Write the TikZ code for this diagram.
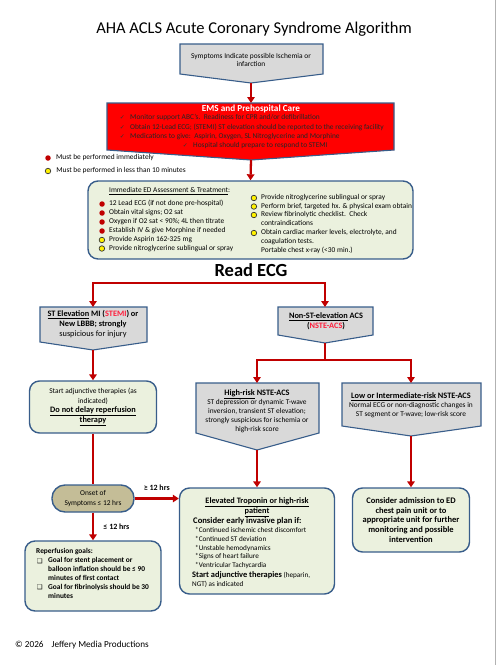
\documentclass[tikz,border=0pt]{standalone}
\usepackage{fontspec}
\setmainfont{Carlito}
\newfontfamily\symfont{DejaVu Sans}
\usepackage{xcolor}
\usepackage{tikz}
\usetikzlibrary{positioning,arrows.meta}

\definecolor{boxblue}{RGB}{56,93,138}
\definecolor{boxgray}{RGB}{217,217,217}
\definecolor{boxgreen}{RGB}{235,241,222}
\definecolor{onsettan}{RGB}{196,189,151}
\definecolor{arrowred}{RGB}{192,0,0}
\definecolor{emsred}{RGB}{255,0,0}
\definecolor{stemired}{RGB}{255,30,60}

\begin{document}
\begin{tikzpicture}[
    x=1pt, y=-1pt,
    penta/.style={draw=boxblue, line width=1.1pt, fill=boxgray},
    emsbox/.style={draw=boxblue, line width=1.1pt, fill=emsred},
    greenbox/.style={draw=boxblue, line width=1.4pt, fill=boxgreen, rounded corners=10pt, inner sep=0, align=center},
    onsetbox/.style={draw=boxblue, line width=1.4pt, fill=onsettan, rounded corners=13pt, inner sep=0, align=center, font=\fontsize{7.4}{9.5}\selectfont},
    txt/.style={align=center, inner sep=0, font=\fontsize{7.4}{9}\selectfont},
    item/.style={anchor=west, inner sep=0, font=\fontsize{7.4}{9}\selectfont, text height=5.2pt, text depth=1.6pt},
    check/.style={inner sep=0, text=black!80, font=\symfont\fontsize{6}{9}\selectfont},
    sqbul/.style={inner sep=0, font=\symfont\fontsize{6.5}{9}\selectfont},
    redbul/.style={circle, fill=arrowred, inner sep=0, minimum size=5.5pt},
    yelbul/.style={circle, draw=black!80, fill=yellow, line width=0.7pt, inner sep=0, minimum size=5.5pt},
    redline/.style={draw=arrowred, line width=2.3pt},
    arrow/.style={redline, -{Triangle[length=6pt, width=7.5pt]}},
]
    \useasboundingbox (0,0) rectangle (500,665);
    \draw[black!30, line width=1pt] (495,0) -- (495,665);

    % Title
    \node[font=\fontsize{16.5}{19}\selectfont] (title) at (254,29) {AHA ACLS Acute Coronary Syndrome Algorithm};

    % Symptoms
    \draw[penta] (180,44) -- (323,44) -- (323,74) -- (251,83) -- (180,74) -- cycle;
    \node[txt, font=\fontsize{7.4}{8.4}\selectfont] (symptoms) at (251,60) {Symptoms Indicate possible Ischemia or\\infarction};
    \coordinate (symptomsTip) at (251,83);

    % EMS and prehospital care
    \draw[emsbox] (107,103) -- (394,103) -- (394,150) -- (251,160) -- (107,150) -- cycle;
    \coordinate (emsTop) at (251,103);
    \coordinate (emsTip) at (251,160);
    \draw[arrow] (symptomsTip) -- (emsTop);
    \node[txt, text=white, font=\fontsize{9.2}{10}\selectfont\bfseries] (ems) at (251,109) {EMS and Prehospital Care};
    \node[item, text=black!85] (ems1) at (130,118) {Monitor support ABC's.\ \ Readiness for CPR and/or defibrillation};
    \node[item, text=black!85] (ems2) at (130,127.7) {Obtain 12-Lead ECG; (STEMI) ST elevation should be reported to the receiving facility};
    \node[item, text=black!85] (ems3) at (130,136.7) {Medications to give:\ \ Aspirin, Oxygen, SL Nitroglycerine and Morphine};
    \node[item, text=black!85] (ems4) at (193,145.3) {Hospital should prepare to respond to STEMI};
    \node[check, left=5pt of ems1] (ck1) {✓};
    \node[check, left=5pt of ems2] (ck2) {✓};
    \node[check, left=5pt of ems3] (ck3) {✓};
    \node[check, left=5pt of ems4] (ck4) {✓};

    % Legend
    \node[redbul] (legRed) at (48,158) {};
    \node[item, right=5pt of legRed] (legRedTxt) {Must be performed immediately};
    \node[yelbul] (legYel) at (48,171) {};
    \node[item, right=5pt of legYel] (legYelTxt) {Must be performed in less than 10 minutes};

    % Immediate ED assessment
    \node[greenbox, minimum width=325pt, minimum height=78pt] (ed) at (250.5,220) {};
    \draw[arrow] (emsTip) -- (ed.north);
    \node[item] (edTitle) at (109,191) {\underline{Immediate ED Assessment \& Treatment}:};
    \node[item] (ed1) at (109,204) {12 Lead ECG (if not done pre-hospital)};
    \node[item] (ed2) at (109,213) {Obtain vital signs; O2 sat};
    \node[item] (ed3) at (109,222) {Oxygen if O2 sat < 90\%; 4L then titrate};
    \node[item] (ed4) at (109,231) {Establish IV \& give Morphine if needed};
    \node[item] (ed5) at (109,240) {Provide Aspirin 162-325 mg};
    \node[item] (ed6) at (109,248.5) {Provide nitroglycerine sublingual or spray};
    \node[redbul, left=4pt of ed1] (edb1) {};
    \node[redbul, left=4pt of ed2] (edb2) {};
    \node[redbul, left=4pt of ed3] (edb3) {};
    \node[redbul, left=4pt of ed4] (edb4) {};
    \node[yelbul, left=4pt of ed5] (edb5) {};
    \node[yelbul, left=4pt of ed6] (edb6) {};
    \node[item] (ed7) at (261,198) {Provide nitroglycerine sublingual or spray};
    \node[item] (ed8) at (261,206.5) {Perform brief, targeted hx. \& physical exam obtain};
    \node[item] (ed9) at (261,215) {Review fibrinolytic checklist.\ \ Check};
    \node[item] (ed9b) at (261,224) {contraindications};
    \node[item] (ed10) at (261,233) {Obtain cardiac marker levels, electrolyte, and};
    \node[item] (ed10b) at (261,242) {coagulation tests.};
    \node[item] (ed10c) at (261,250.5) {Portable chest x-ray (<30 min.)};
    \node[yelbul, left=4pt of ed7] (edb7) {};
    \node[yelbul, left=4pt of ed8] (edb8) {};
    \node[yelbul, left=4pt of ed9] (edb9) {};
    \node[yelbul, left=4pt of ed10] (edb10) {};

    % Read ECG
    \node[font=\fontsize{18.5}{20}\selectfont\bfseries] (readecg) at (251,270) {Read ECG};
    \coordinate (bus) at (251,283);

    % STEMI branch
    \draw[penta] (40,307) -- (147,307) -- (147,342) -- (93,350) -- (40,342) -- cycle;
    \coordinate (stemiTop) at (93,307);
    \coordinate (stemiTip) at (93,350);
    \node[txt, font=\fontsize{8.3}{10}\selectfont] (stemi) at (93,324.5) {\textbf{\underline{ST Elevation} MI (\textcolor{stemired}{STEMI}) or}\\\textbf{New LBBB; strongly}\\suspicious for injury};
    \draw[arrow] (bus) -| (stemiTop);

    \node[greenbox, minimum width=127pt, minimum height=52pt, font=\fontsize{7.4}{9.7}\selectfont] (adjunct) at (93,407) {Start adjunctive therapies (as\\indicated)\\{\fontsize{8.3}{9.7}\selectfont\bfseries\underline{Do not delay reperfusion}}\\{\fontsize{8.3}{9.7}\selectfont\bfseries\underline{therapy}}};
    \draw[arrow] (stemiTip) -- (adjunct.north);

    \node[onsetbox, minimum width=82pt, minimum height=27pt] (onset) at (93,498.5) {Onset of\\Symptoms ≤ 12 hrs};
    \draw[redline] (adjunct.south) -- (onset.north);

    \node[greenbox, minimum width=136pt, minimum height=70pt] (reperf) at (93,576) {};
    \draw[arrow] (onset.south) -- (reperf.north) node[midway, right=6pt, font=\fontsize{8}{9}\selectfont\bfseries] (le12) {≤ 12 hrs};
    \node[item, font=\fontsize{7.4}{9}\selectfont\bfseries] (repTitle) at (36,552) {Reperfusion goals:};
    \node[item, font=\fontsize{7.4}{9}\selectfont\bfseries] (rep1) at (48,561) {Goal for stent placement or};
    \node[item, font=\fontsize{7.4}{9}\selectfont\bfseries] (rep1b) at (48,570) {balloon inflation should be ≤ 90};
    \node[item, font=\fontsize{7.4}{9}\selectfont\bfseries] (rep1c) at (48,579) {minutes of first contact};
    \node[item, font=\fontsize{7.4}{9}\selectfont\bfseries] (rep2) at (48,587.5) {Goal for fibrinolysis should be 30};
    \node[item, font=\fontsize{7.4}{9}\selectfont\bfseries] (rep2b) at (48,596.5) {minutes};
    \node[sqbul, left=5pt of rep1] (sq1) {❑};
    \node[sqbul, left=5pt of rep2] (sq2) {❑};

    % NSTE-ACS branch
    \draw[penta] (278,307) -- (373,307) -- (373,335) -- (325,343) -- (278,335) -- cycle;
    \coordinate (nsteTop) at (325,307);
    \coordinate (nsteTip) at (325,343);
    \node[txt, font=\fontsize{8.3}{10}\selectfont\bfseries] (nste) at (326,321) {\underline{Non-ST-elevation} ACS\\(\textcolor{stemired}{NSTE-ACS})};
    \draw[arrow] (bus) -| (nsteTop);
    \coordinate (fork) at (325,360);
    \draw[redline] (nsteTip) -- (fork);

    \draw[penta] (196,383) -- (319,383) -- (319,433) -- (257,450) -- (196,433) -- cycle;
    \coordinate (hiTop) at (257,383);
    \coordinate (hiTip) at (257,450);
    \node[txt] (hirisk) at (257,411) {{\fontsize{8.3}{9}\selectfont\bfseries\underline{High-risk} NSTE-ACS}\\ST depression or dynamic T-wave\\inversion, transient ST elevation;\\strongly suspicious for ischemia or\\high-risk score};

    \draw[penta] (342,383) -- (481,383) -- (481,426) -- (411,436) -- (342,426) -- cycle;
    \coordinate (loTop) at (411,383);
    \coordinate (loTip) at (411,436);
    \node[txt] (lorisk) at (411,405) {{\fontsize{8.3}{9}\selectfont\bfseries\underline{Low or Intermediate-risk} NSTE-ACS}\\Normal ECG or non-diagnostic changes in\\ST segment or T-wave; low-risk score};

    \draw[arrow] (fork) -| (hiTop);
    \draw[arrow] (fork) -| (loTop);

    % Troponin / high-risk patient
    \node[greenbox, minimum width=155pt, minimum height=106pt] (trop) at (257,541) {};
    \draw[arrow] (hiTip) -- (trop.north);
    \draw[arrow] (onset.east) -- (onset.east -| trop.west) node[midway, above=3pt, font=\fontsize{8}{9}\selectfont\bfseries] (ge12) {≥ 12 hrs};
    \node[txt, font=\fontsize{8.3}{10}\selectfont\bfseries] (tropTitle) at (257,507) {\underline{Elevated Troponin or high-risk}\\\underline{patient}};
    \node[item, font=\fontsize{8.6}{9}\selectfont\bfseries] (trop1) at (193,522) {Consider early invasive plan if:};
    \node[item, font=\fontsize{7.2}{9}\selectfont] (trop2) at (195,531) {*Continued ischemic chest discomfort};
    \node[item, font=\fontsize{7.2}{9}\selectfont] (trop3) at (195,540) {*Continued ST deviation};
    \node[item, font=\fontsize{7.2}{9}\selectfont] (trop4) at (195,548.5) {*Unstable hemodynamics};
    \node[item, font=\fontsize{7.2}{9}\selectfont] (trop5) at (195,557) {*Signs of heart failure};
    \node[item, font=\fontsize{7.2}{9}\selectfont] (trop6) at (195,566) {*Ventricular Tachycardia};
    \node[item, font=\fontsize{7.2}{9}\selectfont] (trop7) at (192,576) {{\fontsize{8.4}{9}\selectfont\bfseries Start adjunctive therapies} (heparin,};
    \node[item, font=\fontsize{7.2}{9}\selectfont] (trop8) at (192,585) {NGT) as indicated};

    % Admission
    \node[greenbox, minimum width=117pt, minimum height=64pt, font=\fontsize{8.5}{9.8}\selectfont\bfseries] (admit) at (411,520) {Consider admission to ED\\chest pain unit or to\\appropriate unit for further\\monitoring and possible\\intervention};
    \draw[arrow] (loTip) -- (admit.north);

    % Footer
    \node[item, font=\fontsize{9.2}{10}\selectfont] (footer) at (15,646) {© 2026\hspace{8pt}Jeffery Media Productions};
\end{tikzpicture}
\end{document}
